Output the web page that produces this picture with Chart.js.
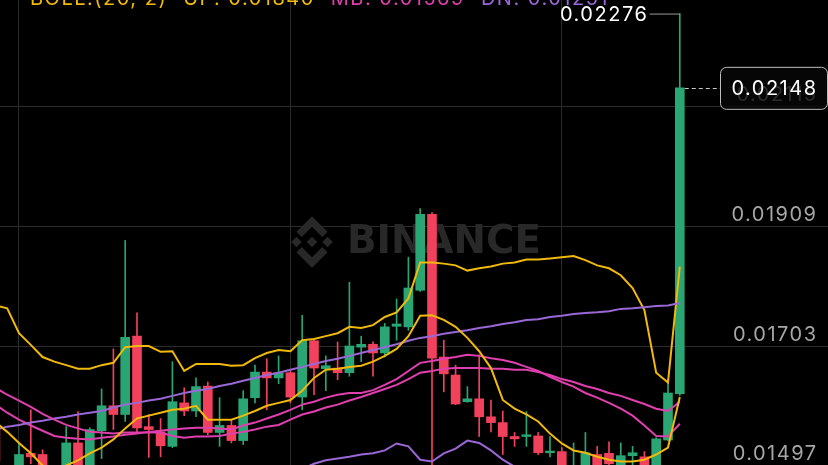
<!DOCTYPE html>
<html>
<head>
<meta charset="utf-8">
<script src="https://cdn.jsdelivr.net/npm/chart.js"></script>
<style>
  html, body { margin: 0; padding: 0; background: #000; }
  #wrap { width: 828px; height: 465px; }
</style>
</head>
<body>
<div id="wrap"><canvas id="kline" width="828" height="465"></canvas></div>
<script>
// candles, oldest first (the first one sits just past the left edge)
const opens  = [0.01560,
                0.01490, 0.01495, 0.01518, 0.01516, 0.01494, 0.01488, 0.01536, 0.01490, 0.01557, 0.01600,
                0.01585, 0.01720, 0.01564, 0.01555, 0.01530, 0.01605, 0.01591, 0.01634, 0.01554, 0.01566,
                0.01540, 0.01614, 0.01658, 0.01648, 0.01657, 0.01615, 0.01712, 0.01664, 0.01665, 0.01657,
                0.01701, 0.01706, 0.01691, 0.01737, 0.01736, 0.01799, 0.01930, 0.01684, 0.01653, 0.01607,
                0.01612, 0.01581, 0.01571, 0.01547, 0.01547, 0.01548, 0.01519, 0.01521, 0.01490, 0.01490,
                0.01516, 0.01518, 0.01494, 0.01514, 0.01512, 0.01494, 0.01541, 0.01621];
const highs  = [0.01575,
                0.01495, 0.01536, 0.01593, 0.01524, 0.01497, 0.01564, 0.01590, 0.01562, 0.01629, 0.01698,
                0.01885, 0.01760, 0.01585, 0.01578, 0.01676, 0.01631, 0.01648, 0.01641, 0.01614, 0.01576,
                0.01626, 0.01670, 0.01681, 0.01686, 0.01660, 0.01756, 0.01713, 0.01686, 0.01710, 0.01813,
                0.01720, 0.01710, 0.01742, 0.01784, 0.01856, 0.01940, 0.01933, 0.01713, 0.01670, 0.01633,
                0.01688, 0.01610, 0.01591, 0.01554, 0.01590, 0.01554, 0.01547, 0.01528, 0.01536, 0.01554,
                0.01530, 0.01538, 0.01536, 0.01530, 0.01521, 0.01545, 0.01645, 0.02276];
const lows   = [0.01500,
                0.01470, 0.01490, 0.01500, 0.01488, 0.01480, 0.01482, 0.01485, 0.01486, 0.01509, 0.01559,
                0.01573, 0.01554, 0.01511, 0.01512, 0.01528, 0.01583, 0.01581, 0.01550, 0.01530, 0.01536,
                0.01533, 0.01605, 0.01593, 0.01638, 0.01605, 0.01593, 0.01619, 0.01626, 0.01645, 0.01651,
                0.01676, 0.01651, 0.01684, 0.01713, 0.01730, 0.01797, 0.01480, 0.01624, 0.01602, 0.01606,
                0.01547, 0.01555, 0.01516, 0.01530, 0.01530, 0.01516, 0.01512, 0.01490, 0.01488, 0.01486,
                0.01488, 0.01495, 0.01490, 0.01495, 0.01490, 0.01490, 0.01540, 0.01618];
const closes = [0.01505,
                0.01478, 0.01516, 0.01512, 0.01494, 0.01486, 0.01536, 0.01490, 0.01559, 0.01600, 0.01585,
                0.01718, 0.01562, 0.01559, 0.01531, 0.01607, 0.01591, 0.01633, 0.01554, 0.01566, 0.01540,
                0.01612, 0.01658, 0.01648, 0.01657, 0.01615, 0.01712, 0.01665, 0.01669, 0.01657, 0.01703,
                0.01706, 0.01691, 0.01736, 0.01741, 0.01803, 0.01930, 0.01682, 0.01655, 0.01603, 0.01612,
                0.01581, 0.01571, 0.01547, 0.01543, 0.01550, 0.01519, 0.01522, 0.01495, 0.01496, 0.01519,
                0.01494, 0.01500, 0.01514, 0.01519, 0.01494, 0.01543, 0.01622, 0.02148];

// moving averages
const ma7  = [0.01572,
              0.01555, 0.01536, 0.01518, 0.01497, 0.01490, 0.01497, 0.01506, 0.01518, 0.01528, 0.01542,
              0.01561, 0.01578, 0.01583, 0.01588, 0.01593, 0.01595, 0.01600, 0.01576, 0.01576, 0.01576,
              0.01583, 0.01591, 0.01600, 0.01605, 0.01610, 0.01626, 0.01648, 0.01662, 0.01664, 0.01667,
              0.01669, 0.01676, 0.01686, 0.01698, 0.01720, 0.01755, 0.01756, 0.01748, 0.01736, 0.01717,
              0.01694, 0.01665, 0.01610, 0.01595, 0.01585, 0.01573, 0.01552, 0.01535, 0.01523, 0.01519,
              0.01512, 0.01507, 0.01504, 0.01504, 0.01507, 0.01516, 0.01528, 0.01615];
const ma25 = [0.01631,
              0.01619, 0.01609, 0.01598, 0.01586, 0.01576, 0.01567, 0.01561, 0.01555, 0.01554, 0.01552,
              0.01554, 0.01554, 0.01554, 0.01554, 0.01548, 0.01545, 0.01547, 0.01547, 0.01548, 0.01552,
              0.01555, 0.01559, 0.01564, 0.01567, 0.01576, 0.01585, 0.01590, 0.01597, 0.01602, 0.01609,
              0.01615, 0.01622, 0.01629, 0.01636, 0.01646, 0.01657, 0.01660, 0.01664, 0.01665, 0.01665,
              0.01665, 0.01664, 0.01664, 0.01662, 0.01662, 0.01658, 0.01653, 0.01646, 0.01641, 0.01634,
              0.01629, 0.01622, 0.01617, 0.01610, 0.01603, 0.01595, 0.01591, 0.01607];
const ma99 = [0.01559,
              0.01564, 0.01567, 0.01571, 0.01574, 0.01578, 0.01581, 0.01585, 0.01588, 0.01591, 0.01597,
              0.01602, 0.01605, 0.01609, 0.01612, 0.01617, 0.01622, 0.01626, 0.01629, 0.01634, 0.01638,
              0.01643, 0.01648, 0.01653, 0.01657, 0.01662, 0.01667, 0.01672, 0.01677, 0.01681, 0.01686,
              0.01691, 0.01696, 0.01701, 0.01706, 0.01712, 0.01717, 0.01720, 0.01724, 0.01727, 0.01730,
              0.01734, 0.01737, 0.01741, 0.01744, 0.01748, 0.01749, 0.01753, 0.01755, 0.01758, 0.01760,
              0.01761, 0.01763, 0.01767, 0.01768, 0.01770, 0.01772, 0.01773, 0.01777];

// bollinger (20, 2)
const bollUp = [0.01773,
                0.01768, 0.01725, 0.01705, 0.01684, 0.01676, 0.01670, 0.01664, 0.01664, 0.01670, 0.01674,
                0.01701, 0.01703, 0.01703, 0.01693, 0.01694, 0.01660, 0.01672, 0.01672, 0.01672, 0.01669,
                0.01670, 0.01682, 0.01691, 0.01696, 0.01694, 0.01713, 0.01715, 0.01720, 0.01725, 0.01736,
                0.01734, 0.01739, 0.01753, 0.01761, 0.01785, 0.01847, 0.01847, 0.01845, 0.01842, 0.01833,
                0.01837, 0.01840, 0.01845, 0.01847, 0.01852, 0.01852, 0.01854, 0.01856, 0.01858, 0.01851,
                0.01842, 0.01837, 0.01825, 0.01803, 0.01765, 0.01657, 0.01640, 0.01840];
const bollMb = [0.01602,
                0.01588, 0.01576, 0.01566, 0.01557, 0.01548, 0.01545, 0.01543, 0.01542, 0.01545, 0.01547,
                0.01550, 0.01552, 0.01555, 0.01557, 0.01559, 0.01561, 0.01562, 0.01562, 0.01561, 0.01559,
                0.01566, 0.01571, 0.01578, 0.01585, 0.01593, 0.01602, 0.01607, 0.01614, 0.01619, 0.01622,
                0.01622, 0.01627, 0.01636, 0.01646, 0.01660, 0.01674, 0.01677, 0.01681, 0.01684, 0.01688,
                0.01686, 0.01682, 0.01679, 0.01674, 0.01667, 0.01660, 0.01650, 0.01641, 0.01633, 0.01622,
                0.01614, 0.01605, 0.01595, 0.01583, 0.01566, 0.01548, 0.01547, 0.01569];
const bollDn = [0.01390,
                0.01408, 0.01427, 0.01427, 0.01430, 0.01420, 0.01420, 0.01422, 0.01420, 0.01420, 0.01420,
                0.01399, 0.01401, 0.01407, 0.01421, 0.01424, 0.01462, 0.01452, 0.01452, 0.01450, 0.01449,
                0.01462, 0.01460, 0.01465, 0.01474, 0.01492, 0.01491, 0.01500, 0.01506, 0.01509, 0.01512,
                0.01516, 0.01518, 0.01523, 0.01535, 0.01530, 0.01507, 0.01504, 0.01518, 0.01526, 0.01540,
                0.01536, 0.01523, 0.01507, 0.01495, 0.01482, 0.01468, 0.01446, 0.01426, 0.01408, 0.01393,
                0.01386, 0.01373, 0.01365, 0.01363, 0.01367, 0.01439, 0.01454, 0.01251];

const priceTicks = [0.01497, 0.01703, 0.01909, 0.02115];
const timeGridAt = [2, 25, 48];
const legendLabels = ['BOLL:(20, 2)', 'UP: 0.01840', 'MB: 0.01569', 'DN: 0.01251'];

const GREEN = '#29a673';
const RED = '#f2415d';
const YELLOW = '#f0b90b';
const PINK = '#e03fae';
const PURPLE = '#9a68d6';
const GRID = '#2c2c2c';
const FONT = '"Inter", "Noto Sans", sans-serif';

const idx = closes.map((_, i) => i);
const candleColors = idx.map(i => closes[i] >= opens[i] ? GREEN : RED);
const pts = arr => idx.map(i => ({ x: i, y: arr[i] }));

function lineSet(label, arr, color) {
  return {
    type: 'line', label, data: pts(arr),
    borderColor: color, borderWidth: 2,
    pointRadius: 0, tension: 0, fill: false, order: 0
  };
}

function drawWatermark(ctx, cx, cy) {
  ctx.save();
  ctx.fillStyle = '#282828';
  const lx = cx - 102, s = 0.41;
  const poly = p => {
    ctx.beginPath();
    p.forEach(([x, y], k) => k ? ctx.lineTo(lx + x * s, cy + y * s) : ctx.moveTo(lx + x * s, cy + y * s));
    ctx.closePath();
    ctx.fill();
  };
  const diamond = (ox, r) => poly([[ox, -r], [ox + r, 0], [ox, r], [ox - r, 0]]);
  diamond(0, 13); diamond(-38, 13); diamond(38, 13);
  poly([[0, -63], [38, -25], [25, -12], [0, -37], [-25, -12], [-38, -25]]);
  poly([[0, 63], [38, 25], [25, 12], [0, 37], [-25, 12], [-38, 25]]);
  ctx.font = 'bold 37px "DejaVu Sans"';
  const w = ctx.measureText('BINANCE').width;
  const size = 37 * 194 / w;
  ctx.font = 'bold ' + size.toFixed(1) + 'px "DejaVu Sans"';
  ctx.textBaseline = 'middle';
  ctx.fillText('BINANCE', cx - 67, cy + 1);
  ctx.restore();
}

const overlay = {
  id: 'overlay',
  beforeDatasetsDraw(chart) {
    const ca = chart.chartArea;
    drawWatermark(chart.ctx, (ca.left + ca.right) / 2, ca.top + 242);
  },
  afterDraw(chart) {
    const ctx = chart.ctx;
    const xs = chart.scales.x, ys = chart.scales.y;
    const right = chart.width - 12;
    ctx.save();
    ctx.font = '20px ' + FONT;
    ctx.letterSpacing = '1.5px';
    ctx.textBaseline = 'middle';

    // price axis labels, sitting just above their grid lines
    ctx.fillStyle = '#a6a6a6';
    ctx.textAlign = 'right';
    ys.ticks.forEach(t => {
      ctx.fillText(t.value.toFixed(5), right + 1.5, ys.getPixelForValue(t.value) - 11.5);
    });

    // highest price marker
    const last = closes.length - 1;
    const hx = xs.getPixelForValue(last);
    const hi = Math.max(...highs);
    const hy = ys.getPixelForValue(hi);
    ctx.strokeStyle = '#9a9a9a';
    ctx.lineWidth = 1;
    ctx.beginPath();
    ctx.moveTo(hx - 30, hy + 0.5);
    ctx.lineTo(hx, hy + 0.5);
    ctx.stroke();
    ctx.fillStyle = '#ffffff';
    ctx.fillText(hi.toFixed(5), hx - 31.5, hy + 1);

    // last price tag
    const py = ys.getPixelForValue(closes[last]);
    const bx = 720, bw = chart.width - 1 - bx, bh = 42;
    ctx.setLineDash([4, 3]);
    ctx.strokeStyle = '#c8c8c8';
    ctx.beginPath();
    ctx.moveTo(hx + 5, Math.round(py) + 0.5);
    ctx.lineTo(bx, Math.round(py) + 0.5);
    ctx.stroke();
    ctx.setLineDash([]);
    ctx.beginPath();
    ctx.roundRect(bx + 0.5, py - bh / 2 + 0.5, bw, bh, 6);
    ctx.fillStyle = 'rgba(8,8,8,0.78)';
    ctx.fill();
    ctx.strokeStyle = '#bdbdbd';
    ctx.stroke();
    ctx.fillStyle = '#ffffff';
    ctx.fillText(closes[last].toFixed(5), right + 1.5, py + 1);

    // indicator legend, mostly clipped by the top edge
    const legendColors = [YELLOW, YELLOW, PINK, PURPLE];
    ctx.textAlign = 'left';
    ctx.textBaseline = 'alphabetic';
    let lx = 30;
    legendLabels.forEach((txt, k) => {
      ctx.fillStyle = legendColors[k];
      ctx.fillText(txt, lx, 5);
      lx += ctx.measureText(txt).width + 16;
    });
    ctx.restore();
  }
};

new Chart(document.getElementById('kline'), {
  type: 'bar',
  data: {
    datasets: [
      lineSet('MA(7)', ma7, YELLOW),
      lineSet('MA(25)', ma25, PINK),
      lineSet('MA(99)', ma99, PURPLE),
      lineSet('UP', bollUp, YELLOW),
      lineSet('MB', bollMb, PINK),
      lineSet('DN', bollDn, PURPLE),
      {
        label: 'body', data: idx.map(i => ({ x: i, y: [opens[i], closes[i]] })),
        backgroundColor: candleColors, barThickness: 9, minBarLength: 1,
        borderWidth: 0, borderSkipped: false, grouped: false, order: 2
      },
      {
        label: 'wick', data: idx.map(i => ({ x: i, y: [lows[i], highs[i]] })),
        backgroundColor: candleColors, barThickness: 1,
        borderWidth: 0, borderSkipped: false, grouped: false, order: 3
      }
    ]
  },
  options: {
    responsive: false,
    animation: false,
    events: [],
    layout: { padding: 0 },
    plugins: { legend: { display: false }, tooltip: { enabled: false } },
    scales: {
      x: {
        type: 'linear', min: 0.39, max: 70.56, offset: false,
        afterBuildTicks: s => { s.ticks = timeGridAt.map(v => ({ value: v })); },
        ticks: { display: false },
        grid: { color: GRID, drawTicks: false, offset: false },
        border: { display: false }
      },
      y: {
        type: 'linear', position: 'right', min: 0.014979, max: 0.022994,
        afterBuildTicks: s => { s.ticks = priceTicks.map(v => ({ value: v })); },
        ticks: { display: false },
        grid: { color: GRID, drawTicks: false },
        border: { display: false }
      }
    }
  },
  plugins: [overlay]
});
</script>
</body>
</html>
